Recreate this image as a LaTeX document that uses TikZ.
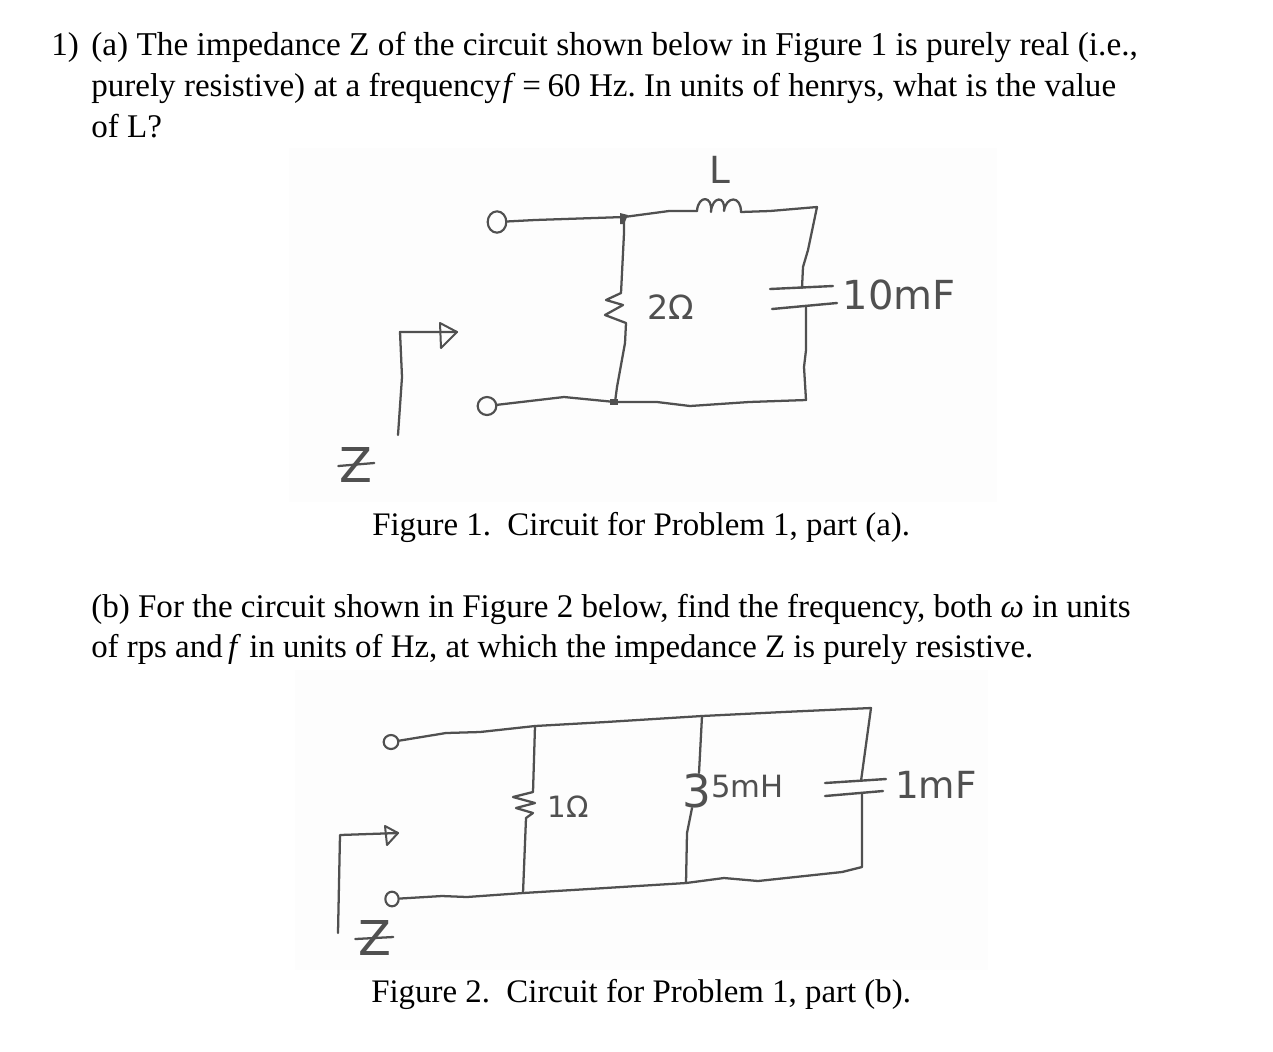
\documentclass[tikz,border=0pt]{standalone}
\usepackage{fontspec}
\setmainfont{Liberation Serif}
\newfontfamily\handfont{DejaVu Sans}
\usetikzlibrary{shapes.geometric}
\definecolor{ink}{HTML}{505050}
\definecolor{scan}{HTML}{FDFDFD}
\tikzset{
  printed/.style={anchor=base west,inner sep=0pt,font=\fontsize{#1}{24}\selectfont\frenchspacing,text=black},
  printed/.default=24.8,
  wire/.style={draw=ink,line width=1.7pt,line join=round,line cap=round},
  plate/.style={wire,line width=1.8pt},
  terminal/.style={ellipse,draw=ink,line width=1.6pt,inner sep=0pt,minimum width=14pt,minimum height=16pt},
  handlabel/.style={inner sep=0pt,text=ink,font=\handfont\fontsize{#1}{#1}\selectfont},
  openhead/.style={wire,line width=1.5pt},
}
\begin{document}
\begin{tikzpicture}[x=0.75pt,y=-0.75pt]
\useasboundingbox (0,0) rectangle (1273,1051);
\fill[white] (0,0) rectangle (1273,1051);
\fill[scan] (289,148) rectangle (997,502);
\fill[scan] (295,670) rectangle (988,970);

% printed text
\node[printed] (n1) at (51,55) {1)};
\node[printed=24.97] (l1) at (91,55) {(a) The impedance Z of the circuit shown below in Figure 1 is purely real (i.e.,};
\node[printed] (l2) at (91,96) {purely resistive) at a frequency\hspace{1.5pt}\textit{f}\hspace{5pt}=\hspace{5pt}60 Hz. In units of henrys, what is the value};
\node[printed] (l3) at (91,137) {of L?};
\node[printed=24.66] (cap1) at (372,535) {Figure 1.\ \ Circuit for Problem 1, part (a).};
\node[printed] (l4) at (91,617) {(b) For the circuit shown in Figure 2 below, find the frequency, both \textit{ω} in units};
\node[printed=24.65] (l5) at (91,657) {of rps and\,\textit{f} in units of Hz, at which the impedance Z is purely resistive.};
\node[printed=24.66] (cap2) at (371,1002) {Figure 2.\ \ Circuit for Problem 1, part (b).};

% ---------- Figure 1
\node[terminal] (a1) at (497,222) {};
\node[terminal,minimum width=14pt,minimum height=13.5pt] (a2) at (487,406) {};
\coordinate (aj1) at (624,217);
\coordinate (aj2) at (615,402);
\coordinate (ac1) at (697,211);
\coordinate (ac2) at (741,212);
\coordinate (acorner1) at (817,207);
\coordinate (acorner2) at (806,400);
\coordinate (acp1) at (802,288);
\coordinate (acp2) at (806,306);
\coordinate (ar1) at (621,293);
\coordinate (ar2) at (626,323);

\draw[wire] (a1) -- (535,220) -- (aj1) -- (669,211) -- (ac1);
\draw[wire] (ac1) .. controls (698,195) and (713,195) .. (711,212)
   .. controls (712,196) and (726,195) .. (724,211)
   .. controls (726,196) and (741,195) .. (ac2);
\draw[wire] (ac2) -- (770,211) -- (acorner1) -- (808,250) -- (803,267) -- (acp1);
\draw[plate] (770,289) -- (833,286);
\draw[plate] (772,309) -- (837,303);
\draw[wire] (acp2) -- (806,350) -- (804,367) -- (acorner2) -- (749,402) -- (690,406) -- (657,402) -- (aj2);
\draw[wire] (a2) -- (564,397) -- (aj2);
\draw[wire] (aj1) -- (624,233) -- (ar1) -- (606,300) -- (623,305) -- (605,315) -- (ar2) -- (625,343) -- (617,387) -- (aj2);
\fill[ink] (610,399) rectangle (618,405);
\fill[ink] (620,213) -- (628,215) -- (624,224) -- (620,224) -- cycle;

\coordinate (az1) at (398,435);
\coordinate (az2) at (400,332);
\coordinate (az3) at (457,332);
\draw[wire] (az1) -- (402,377) -- (az2) -- (az3);
\draw[openhead] (440,323) -- (az3) -- (441,348) -- cycle;

\node[handlabel=28] (aL) at (720,170) {L};
\node[handlabel=25] (aR) at (671,307) {2Ω};
\node[handlabel=30] (aC) at (899,295) {10mF};
\node[handlabel=36] (aZ) at (356,465) {Z};
\draw[wire] (aZ.west) ++(-1,1) -- ++(36,-3);

% ---------- Figure 2
\node[terminal,minimum width=11pt,minimum height=10.5pt] (b1) at (391,742) {};
\node[terminal,minimum width=10pt,minimum height=11pt] (b2) at (392,899) {};
\coordinate (bj1) at (535,726);
\coordinate (bj2) at (702,716);
\coordinate (bcorner1) at (871,708);
\coordinate (bcorner2) at (862,867);
\coordinate (bj3) at (686,883);
\coordinate (bj4) at (523,893);
\coordinate (bcp1) at (861,781);
\coordinate (bcp2) at (862,793);

\draw[wire] (b1) -- (446,733) -- (480,732) -- (bj1) -- (606,722) -- (bj2) -- (783,712) -- (bcorner1) -- (bcp1);
\draw[plate] (825,783) -- (886,779);
\draw[plate] (825,796) -- (883,791);
\draw[wire] (bcp2) -- (bcorner2) -- (842,872) -- (758,881) -- (724,878) -- (bj3) -- (589,889) -- (bj4) -- (467,897) -- (442,896) -- (b2);
\draw[wire] (bj1) -- (533,792) -- (513,797) -- (535,803) -- (516,808) -- (533,813) -- (526,818) -- (bj4);
\draw[wire] (bj2) -- (699,773);
\draw[wire] (692,808) -- (687,833) -- (bj3);

\coordinate (bz1) at (338,933);
\coordinate (bz2) at (340,835);
\coordinate (bz3) at (398,833);
\draw[wire] (bz1) -- (bz2) -- (bz3);
\draw[openhead] (385,826) -- (bz3) -- (387,845) -- cycle;

\node[handlabel=22] (bR) at (568,807) {1Ω};
\node[handlabel=23,anchor=base west] (bL) at (682,797) {\raisebox{-7.5pt}{\fontsize{34}{34}\selectfont 3}5mH};
\node[handlabel=28] (bC) at (936,785) {1mF};
\node[handlabel=36] (bZ) at (375,938) {Z};
\draw[wire] (bZ.west) ++(-3,1) -- ++(38,-2);
\end{tikzpicture}
\end{document}
